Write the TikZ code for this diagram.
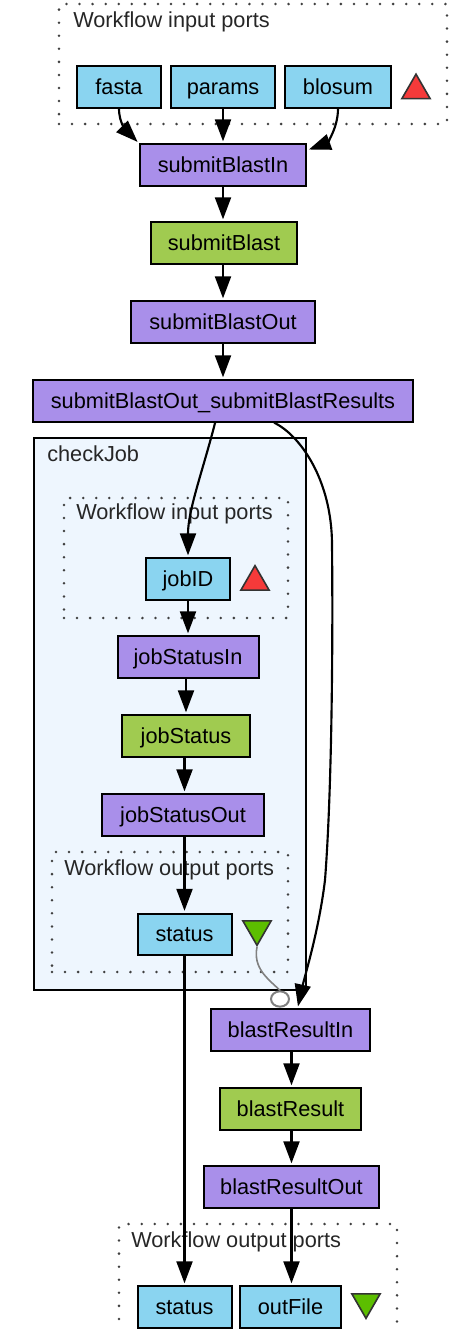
\documentclass[tikz,border=0pt]{standalone}
\usepackage{fontspec}
\setmainfont{Liberation Sans}
\usetikzlibrary{arrows.meta,shapes.geometric}
\definecolor{portblue}{HTML}{8AD4F0}
\definecolor{shimpurple}{HTML}{A98FEA}
\definecolor{activgreen}{HTML}{A0CB50}
\definecolor{clusterbg}{HTML}{EEF6FE}
\definecolor{trigred}{HTML}{F53A3A}
\definecolor{triggreen}{HTML}{5CBE00}
\tikzset{
  wfnode/.style={draw=black,line width=1.5pt,inner sep=0pt,minimum height=31pt,text height=11pt,text depth=0pt,font=\fontsize{16.3}{18}\selectfont},
  dotbox/.style={draw=black!75,line width=2.1pt,line cap=round,dash pattern=on 0pt off 9.8pt,inner sep=0pt},
  boxlabel/.style={font=\fontsize{16.3}{18}\selectfont,text=black!85,anchor=west,inner sep=0pt,text height=11pt,text depth=0pt},
  flow/.style={line width=1.6pt,-{Triangle[length=16.5pt,width=12pt]},shorten >=1.5pt},
  uptri/.style={draw=black!80,line width=1.2pt,fill=trigred,regular polygon,regular polygon sides=3,minimum size=24.5pt,inner sep=0pt},
  downtri/.style={uptri,fill=triggreen,shape border rotate=180},
}
\begin{document}
\begin{tikzpicture}[x=0.75pt,y=-0.75pt]
  \path[use as bounding box,clip] (0,0) rectangle (474,1329);
  % Cluster and port boxes
  \node[draw=black,line width=1.5pt,fill=clusterbg,inner sep=0pt,minimum width=204pt,minimum height=414pt] (checkJob) at (169.5,714) {};
  \node[boxlabel] (checkJobLab) at (47,454) {checkJob};
  \foreach \nm/\cx/\cy/\bw/\bh/\lx/\ly/\lab in {
    portsIn/253/64/388/120/73/20/input,
    innerIn/176/558/224/120/76/512/input,
    innerOut/170/912/236/120/64/868/output,
    portsOut/258/1284/278/120/131/1240/output} {
    \node[dotbox,minimum width=\bw*0.75pt,minimum height=\bh*0.75pt] (\nm) at (\cx,\cy) {};
    \node[boxlabel] (\nm Lab) at (\lx,\ly) {Workflow \lab{} ports};
  }
  % Ports, shims and activities
  \foreach \nm/\lab/\cx/\cy/\bw/\col in {
    fasta/fasta/119/87/84/portblue,
    params/params/223/87/104/portblue,
    blosum/blosum/338/87/106/portblue,
    submitBlastIn/submitBlastIn/223/165/166/shimpurple,
    submitBlast/submitBlast/224/243/146/activgreen,
    submitBlastOut/submitBlastOut/223/322/184/shimpurple,
    submitResults/submitBlastOut\_submitBlastResults/223/401/380/shimpurple,
    jobID/jobID/188/579/84/portblue,
    jobStatusIn/jobStatusIn/188/657/141/shimpurple,
    jobStatus/jobStatus/186/736/128/activgreen,
    jobStatusOut/jobStatusOut/183/815/162/shimpurple,
    statusIn/status/184.5/934.5/94/portblue,
    blastResultIn/blastResultIn/290.5/1030/159/shimpurple,
    blastResult/blastResult/290.5/1109/141/activgreen,
    blastResultOut/blastResultOut/291.5/1187/175/shimpurple,
    statusOut/status/184.5/1307/94/portblue,
    outFile/outFile/290.5/1307/101/portblue} {
    \node[wfnode,fill=\col,minimum width=\bw*0.75pt] (\nm) at (\cx,\cy) {\lab};
  }
  % Triangles
  \node[uptri] (trigA) at (416,90.5) {};
  \node[uptri] (trigB) at (255,582) {};
  \node[downtri] (trigC) at (257,929) {};
  \node[downtri] (trigD) at (366,1302) {};
  \node[draw=black!50,line width=1.5pt,ellipse,inner sep=0pt,minimum width=13.5pt,minimum height=11.5pt] (gateCirc) at (280,999) {};
  % Links
  \draw[flow] (fasta.south) to[out=-90,in=135] (submitBlastIn.north west);
  \draw[flow] (params.south) -- (submitBlastIn.north);
  \draw[flow] (blosum.south) to[out=-90,in=20] (submitBlastIn.10);
  \draw[flow] (submitBlastIn.south) -- (submitBlastIn.south |- submitBlast.north);
  \draw[flow] (submitBlastIn.south |- submitBlast.south) -- (submitBlastOut.north);
  \draw[flow] (submitBlastOut.south) -- (submitResults.north);
  \draw[flow] (submitResults.250) .. controls (203,470) and (188,510) .. (jobID.north);
  \draw[flow] (submitResults.-23) .. controls (300,435) and (332,480) .. (332,545)
    .. controls (333,640) and (332,790) .. (325,880)
    .. controls (319,930) and (305,975) .. (blastResultIn.72);
  \draw[flow] (jobID.south) -- (jobStatusIn.north);
  \draw[flow] (jobStatusIn.south -| jobStatus.north) -- (jobStatus.north);
  \draw[flow] (jobStatus.south -| statusIn.north) -- (jobStatusOut.north -| statusIn.north);
  \draw[flow] (jobStatusOut.south -| statusIn.north) -- (statusIn.north);
  \draw[flow] (statusIn.south) -- (statusOut.north);
  \draw[flow] (blastResultIn.south -| blastResultOut.north) -- (blastResult.north -| blastResultOut.north);
  \draw[flow] (blastResult.south -| blastResultOut.north) -- (blastResultOut.north);
  \draw[flow] (blastResultOut.south) -- (outFile.north -| blastResultOut.north);
  \draw[black!50,line width=1.2pt] (trigC.south) .. controls (253,968) and (267,978) .. (gateCirc.north);
\end{tikzpicture}
\end{document}
